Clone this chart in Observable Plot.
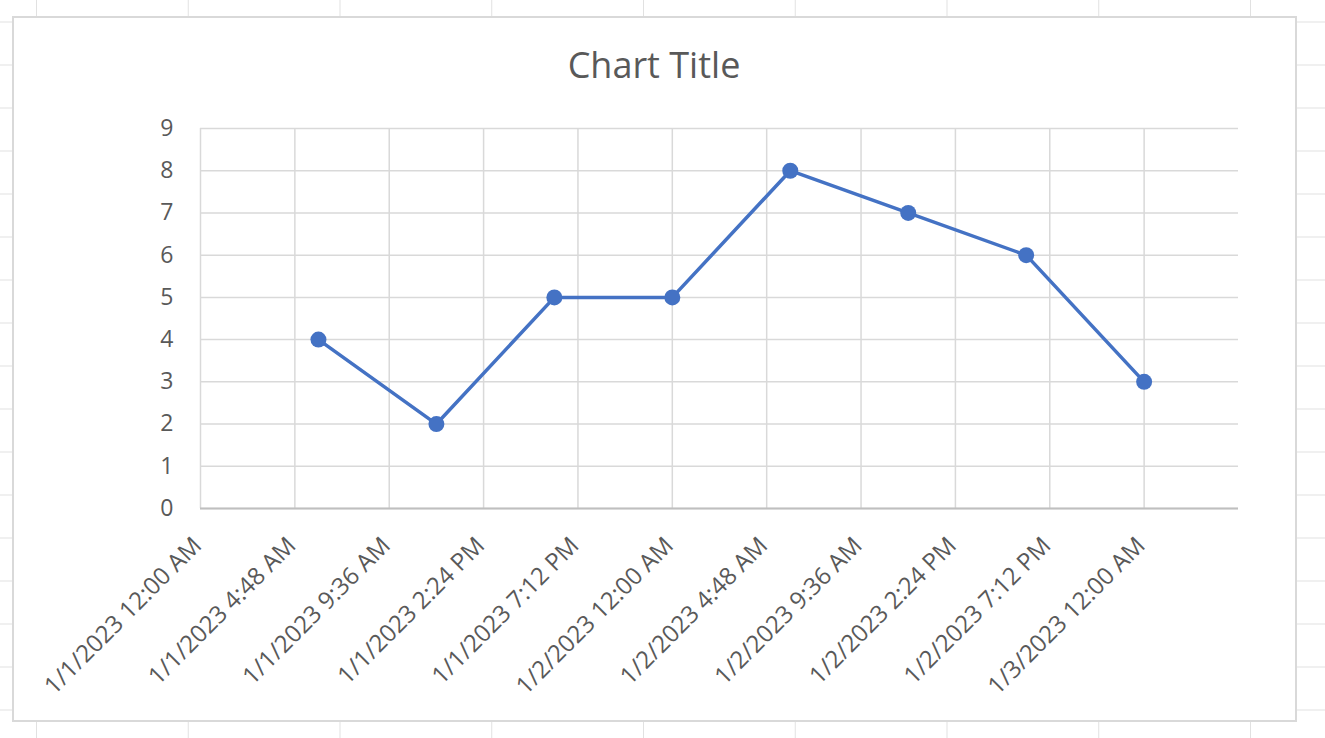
<!DOCTYPE html>
<html>
<head>
<meta charset="utf-8">
<script src="https://cdn.jsdelivr.net/npm/d3@7"></script>
<script src="https://cdn.jsdelivr.net/npm/@observablehq/plot@0.6"></script>
<style>
  html, body { margin: 0; padding: 0; background: #ffffff; }
  #page {
    position: relative; width: 1325px; height: 738px; overflow: hidden;
    background-color: #ffffff;
    background-image:
      linear-gradient(to right, #e1e1e1 1px, transparent 1px),
      linear-gradient(to bottom, #e1e1e1 1px, transparent 1px);
    background-size: 151.75px 43px;
    background-position: 36px 21.5px;
  }
  #box {
    position: absolute; left: 12px; top: 16px; width: 1285px; height: 706px;
    box-sizing: border-box; border: 2px solid #d9d9d9; background: #ffffff;
  }
  #title {
    position: absolute; left: 0; width: 1308px; top: 47px; text-align: center;
    font-family: "Open Sans", sans-serif; font-size: 36px; line-height: 1;
    color: #595959;
  }
  #chart { position: absolute; left: 0; top: 0; }
</style>
</head>
<body>
<div id="page">
  <div id="box"></div>
  <div id="title">Chart Title</div>
  <div id="chart"></div>
</div>
<script>
// ---- data ----
const times = [
  "2023-01-01T06:00", "2023-01-01T12:00", "2023-01-01T18:00", "2023-01-02T00:00",
  "2023-01-02T06:00", "2023-01-02T12:00", "2023-01-02T18:00", "2023-01-03T00:00"
];
const values = [4, 2, 5, 5, 8, 7, 6, 3];

const xTickTimes = [
  "2023-01-01T00:00", "2023-01-01T04:48", "2023-01-01T09:36", "2023-01-01T14:24",
  "2023-01-01T19:12", "2023-01-02T00:00", "2023-01-02T04:48", "2023-01-02T09:36",
  "2023-01-02T14:24", "2023-01-02T19:12", "2023-01-03T00:00"
];
const xTickLabels = [
  "1/1/2023 12:00 AM", "1/1/2023 4:48 AM", "1/1/2023 9:36 AM", "1/1/2023 2:24 PM",
  "1/1/2023 7:12 PM", "1/2/2023 12:00 AM", "1/2/2023 4:48 AM", "1/2/2023 9:36 AM",
  "1/2/2023 2:24 PM", "1/2/2023 7:12 PM", "1/3/2023 12:00 AM"
];
const xDomain = ["2023-01-01T00:00", "2023-01-03T04:48"];
const yTicks = [0, 1, 2, 3, 4, 5, 6, 7, 8, 9];

// ---- build ----
const parse = s => new Date(s + ":00Z");
const data = times.map((t, i) => ({ t: parse(t), v: values[i] }));
const tickDates = xTickTimes.map(parse);

const chart = Plot.plot({
  width: 1325,
  height: 738,
  marginLeft: 200,
  marginRight: 87,
  marginTop: 128,
  marginBottom: 230,
  style: { background: "transparent", fontFamily: "'Open Sans', sans-serif", color: "#595959" },
  x: { type: "utc", domain: xDomain.map(parse), axis: null },
  y: { domain: [0, 9], axis: null },
  marks: [
    Plot.gridY(yTicks, { stroke: "#d9d9d9", strokeOpacity: 1, strokeWidth: 1.5 }),
    Plot.gridX(tickDates, { stroke: "#d9d9d9", strokeOpacity: 1, strokeWidth: 1.5 }),
    Plot.ruleY([0], { stroke: "#bfbfbf", strokeWidth: 2 }),
    Plot.axisY(yTicks, { tickSize: 0, tickPadding: 27, fontSize: 23, fill: "#595959", label: null }),
    Plot.text(tickDates, {
      x: d => d,
      text: (d, i) => xTickLabels[i],
      frameAnchor: "bottom",
      rotate: -45,
      textAnchor: "end",
      lineAnchor: "middle",
      dx: -3,
      dy: 33,
      fontSize: 24,
      fill: "#595959"
    }),
    Plot.line(data, { x: "t", y: "v", stroke: "#4472C4", strokeWidth: 3.5 }),
    Plot.dot(data, { x: "t", y: "v", r: 8, fill: "#4472C4", stroke: "none" })
  ]
});
document.getElementById("chart").appendChild(chart);
</script>
</body>
</html>
